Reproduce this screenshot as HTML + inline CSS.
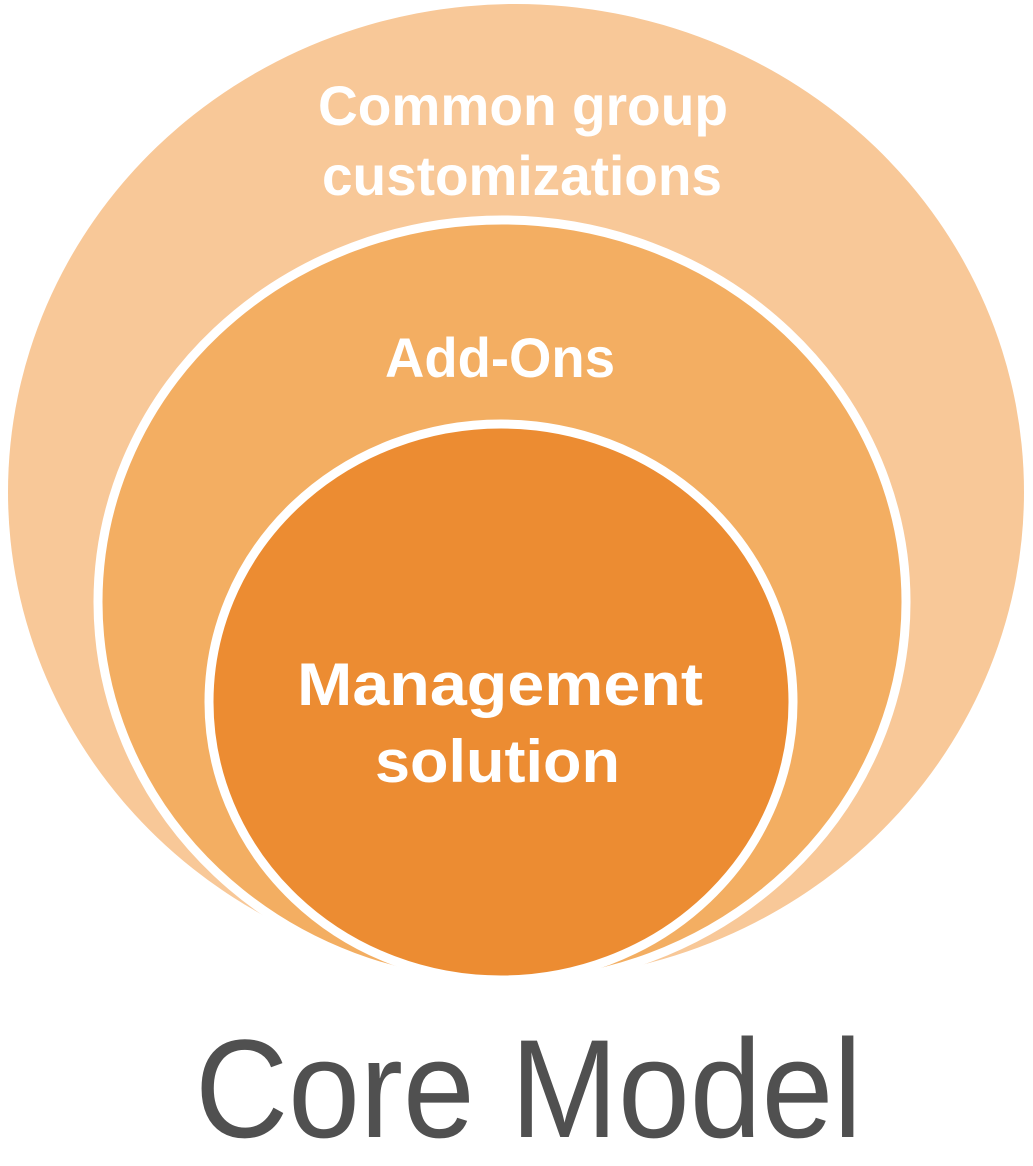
<!DOCTYPE html>
<html><head><meta charset="utf-8"><style>
html,body{margin:0;padding:0;background:#fff;}
svg{display:block;}
</style></head><body>
<svg width="1033" height="1166" viewBox="0 0 1033 1166" xmlns="http://www.w3.org/2000/svg">
<ellipse cx="516" cy="492" rx="508" ry="488" fill="#F8C898"/>
<ellipse cx="502" cy="602" rx="404" ry="382" fill="#F3AE62" stroke="#fff" stroke-width="9"/>
<ellipse cx="501" cy="702" rx="292" ry="278" fill="#EC8C32" stroke="#fff" stroke-width="9"/>
<g font-family="Liberation Sans, sans-serif" font-weight="bold" fill="#fff" font-size="56">
<text x="318" y="125" textLength="410" lengthAdjust="spacingAndGlyphs">Common group</text>
<text x="322" y="195" textLength="400" lengthAdjust="spacingAndGlyphs">customizations</text>
<text x="385" y="377" textLength="230" lengthAdjust="spacingAndGlyphs">Add-Ons</text>
<text x="297" y="705" font-size="60" textLength="406" lengthAdjust="spacingAndGlyphs">Management</text>
<text x="375" y="782" font-size="60" textLength="245" lengthAdjust="spacingAndGlyphs">solution</text>
</g>
<text x="195" y="1137" font-family="Liberation Sans, sans-serif" font-size="140" fill="#505050" textLength="667" lengthAdjust="spacingAndGlyphs">Core Model</text>
</svg>
</body></html>
